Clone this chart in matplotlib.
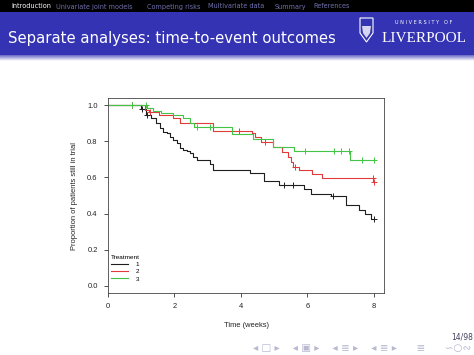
import numpy as np
import matplotlib.pyplot as plt
from matplotlib.patches import Rectangle, Polygon

# Kaplan-Meier step data (time in weeks, survival after step)
trt1_time = [0, 1.00, 1.15, 1.30, 1.45, 1.57, 1.67, 1.77, 1.87, 1.97, 2.08, 2.17, 2.27,
             2.38, 2.48, 2.57, 2.68, 3.08, 3.17, 4.28, 4.70, 5.15, 5.90, 6.11, 6.72,
             7.16, 7.55, 7.75, 7.92]
trt1_surv = [1.0, 0.980, 0.946, 0.928, 0.900, 0.873, 0.854, 0.845, 0.826, 0.808, 0.790,
             0.762, 0.753, 0.747, 0.734, 0.716, 0.697, 0.675, 0.642, 0.624, 0.581, 0.557,
             0.535, 0.511, 0.495, 0.445, 0.422, 0.400, 0.372]
trt1_cens = [0.72, 1.02, 1.18, 5.31, 5.58, 6.79, 8.0]

trt2_time = [0, 1.12, 1.22, 1.55, 1.95, 2.17, 3.15, 4.33, 4.42, 4.62, 4.97, 5.25, 5.42,
             5.50, 5.57, 5.75, 6.15, 6.45, 7.98]
trt2_surv = [1.0, 0.975, 0.960, 0.945, 0.928, 0.900, 0.860, 0.845, 0.826, 0.799, 0.771,
             0.743, 0.716, 0.688, 0.660, 0.642, 0.620, 0.596, 0.575]
trt2_cens = [0.72, 1.25, 3.93, 4.73, 5.63, 7.97, 8.0]

trt3_time = [0, 1.17, 1.35, 1.60, 1.97, 2.27, 2.48, 2.58, 3.73, 4.38, 4.98, 5.60, 7.29]
trt3_surv = [1.0, 0.985, 0.968, 0.955, 0.946, 0.928, 0.900, 0.878, 0.839, 0.813, 0.771,
             0.747, 0.697]
trt3_cens = [0.72, 1.14, 2.68, 3.08, 5.93, 6.82, 7.03, 7.27, 7.66, 8.0]

labels = ['1', '2', '3']
colors = ['#1e1e1e', '#e23a3a', '#44c444']
x_ticks = [0, 2, 4, 6, 8]
y_ticks = [0.0, 0.2, 0.4, 0.6, 0.8, 1.0]

nav_items = ['Introduction', 'Univariate joint models', 'Competing risks',
             'Multivariate data', 'Summary', 'References']
nav_x = [11, 56, 147, 208, 275, 313]

W, H = 474, 355
fig = plt.figure(figsize=(W / 100, H / 100), dpi=100)
fig.patch.set_facecolor('white')

# slide chrome, drawn in pixel coordinates
bg = fig.add_axes([0, 0, 1, 1])
bg.set_xlim(0, W)
bg.set_ylim(H, 0)
bg.axis('off')
bg.add_patch(Rectangle((0, 0), W, 12, color='black', lw=0))
bg.add_patch(Rectangle((0, 12), W, 43, color='#3333B3', lw=0))
grad = np.linspace(0, 1, 20)[:, None]
bg.imshow(grad, extent=(0, W, 61, 55), cmap=plt.matplotlib.colors.LinearSegmentedColormap.from_list(
    'g', ['#6a6ac6', '#ffffff']), aspect='auto', zorder=1)

for i, (s, x) in enumerate(zip(nav_items, nav_x)):
    bg.text(x, 6.5, s, fontsize=4.7, color='white' if i == 0 else '#7070b0',
            ha='left', va='center', family='DejaVu Sans')

bg.text(8, 43.5, 'Separate analyses: time-to-event outcomes', fontsize=10.7,
        color='white', ha='left', va='baseline', family='DejaVu Sans')

# logo
shield = Polygon([[360, 18], [373, 18], [373, 33], [366.5, 42], [360, 33]], closed=True,
                 fill=False, ec='white', lw=0.8)
bg.add_patch(shield)
bg.add_patch(Polygon([[362, 26], [371, 26], [370, 33], [366.5, 38], [363, 33]], closed=True,
                     fc='white', ec='none', alpha=0.8))
bg.text(424, 23, 'U N I V E R S I T Y   O F', fontsize=3.6, color='white',
        ha='center', va='center', family='DejaVu Sans')
bg.text(424.5, 41.5, 'LIVERPOOL', fontsize=11, color='white', ha='center',
        va='baseline', family='Liberation Serif')

bg.text(473, 337, '14/98', fontsize=5.5, color='#404060', ha='right', va='center',
        family='DejaVu Sans')
bg.text(471, 348.5, '\u25c2 \u25a1 \u25b8    \u25c2 \u25a3 \u25b8    \u25c2 \u2263 \u25b8    \u25c2 \u2263 \u25b8      \u2263      \u223d\u25cb\u223e',
        fontsize=7.5, color='#b8b8d0', ha='right', va='center', family='DejaVu Sans')

# survival plot
ax = fig.add_axes([108 / W, 1 - 293 / H, (384.3 - 108) / W, (293 - 98) / H])
plt.rcParams['font.family'] = ['Liberation Sans', 'DejaVu Sans']
t_end = 8.0
for times, surv, cens, lab, col in zip([trt1_time, trt2_time, trt3_time],
                                       [trt1_surv, trt2_surv, trt3_surv],
                                       [trt1_cens, trt2_cens, trt3_cens], labels, colors):
    t = np.append(times, t_end)
    s = np.append(surv, surv[-1])
    ax.step(t, s, where='post', color=col, lw=0.8, label=lab)
    idx = np.searchsorted(times, cens, side='right') - 1
    ax.plot(cens, np.array(surv)[idx], ls='none', marker='+', ms=4.5, mew=0.7, color=col)

ax.set_xlim(0, 8.32)
ax.set_ylim(-0.04, 1.04)
ax.set_xticks(x_ticks)
ax.set_xticklabels([str(v) for v in x_ticks], family='Liberation Sans')
ax.set_yticks(y_ticks)
ax.set_yticklabels(['%.1f' % v for v in y_ticks], family='Liberation Sans')
ax.tick_params(direction='out', length=3.1, width=0.6, color='#333333', pad=4.3,
               labelsize=5.4, labelcolor='#222222')
for sp in ax.spines.values():
    sp.set_color('#444444')
    sp.set_linewidth(0.6)
ax.set_xlabel('Time (weeks)', fontsize=5.4, color='#222222', labelpad=8.5,
              family='Liberation Sans')
ax.set_ylabel('Proportion of patients still in trial', fontsize=5.4, color='#222222',
              labelpad=7, family='Liberation Sans')

leg = ax.legend(title='Treatment', loc='lower left', bbox_to_anchor=(-0.005, 0.035),
                frameon=False, title_fontsize=4.6, handlelength=2.7,
                handletextpad=1.1, labelspacing=0.3, borderpad=0.2,
                prop={'family': 'Liberation Sans', 'size': 4.6})
leg.get_title().set_family('Liberation Sans')
leg._legend_box.align = 'left'

fig.savefig('out.png', dpi=100)
